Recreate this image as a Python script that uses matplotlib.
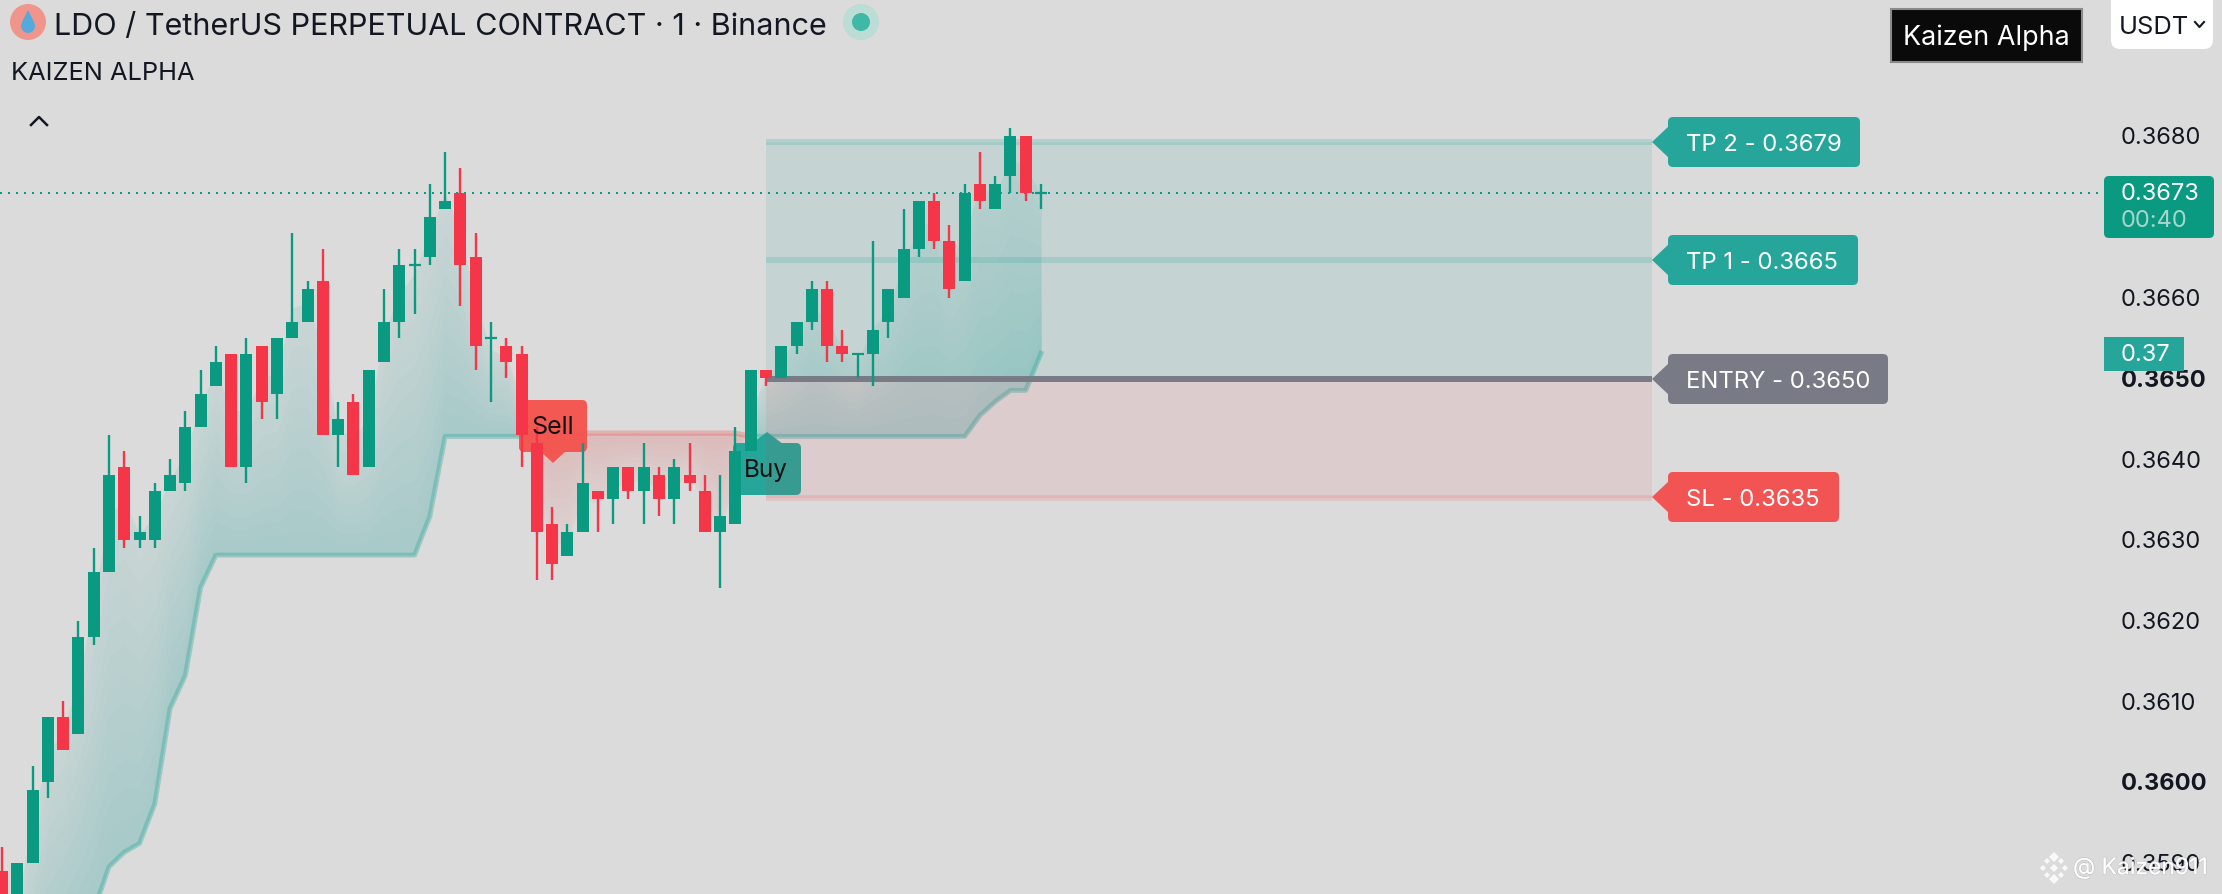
import numpy as np
import matplotlib
matplotlib.use("Agg")
import matplotlib.pyplot as plt
import matplotlib.patheffects as pe
from matplotlib.patches import FancyBboxPatch, Polygon, Circle, Rectangle
from matplotlib.transforms import Affine2D

plt.rcParams['font.family'] = ['Inter', 'DejaVu Sans']

W, H = 2222, 894
BG = "#dbdbdb"
GREEN = "#0a9981"
RED = "#f53648"
TEAL = "#26a69a"
GREY = "#787b86"
SALMON = "#f25454"

# candles, one row per bar
opens = [.3589, .3580, .3590, .3600, .3608, .3606, .3618, .3626, .3639, .3630, .3630, .3636, .3637, .3644, .3649,
         .3653, .3639, .3654, .3648, .3655, .3657, .3662, .3643, .3647, .3639, .3652, .3657, .3664, .3665, .3671,
         .3673, .3665, .3655, .3654, .3653, .3642, .3632, .3628, .3631, .3636, .3635, .3639, .3636, .3638, .3635,
         .3638, .3636, .3631, .3632, .3641, .3651, .3650, .3654, .3657, .3661, .3654, .3653, .3653, .3657, .3660,
         .3666, .3672, .3667, .3662, .3674, .3671, .3675, .3680, .3673]
highs = [.3592, .3590, .3602, .3608, .3610, .3620, .3629, .3643, .3641, .3633, .3637, .3640, .3646, .3651, .3654,
         .3653, .3655, .3654, .3655, .3668, .3662, .3666, .3647, .3648, .3651, .3661, .3666, .3666, .3674, .3678,
         .3676, .3668, .3657, .3655, .3654, .3644, .3634, .3632, .3642, .3636, .3639, .3639, .3642, .3639, .3640,
         .3642, .3638, .3638, .3644, .3651, .3651, .3654, .3657, .3662, .3662, .3656, .3653, .3667, .3661, .3671,
         .3672, .3673, .3669, .3674, .3678, .3675, .3681, .3680, .3674]
lows = [.3580, .3580, .3590, .3598, .3604, .3606, .3617, .3626, .3629, .3629, .3629, .3636, .3636, .3644, .3649,
        .3639, .3637, .3645, .3645, .3655, .3657, .3643, .3639, .3638, .3639, .3652, .3655, .3658, .3664, .3671,
        .3659, .3651, .3647, .3650, .3639, .3625, .3625, .3628, .3631, .3631, .3632, .3635, .3632, .3633, .3632,
        .3636, .3631, .3624, .3632, .3641, .3649, .3650, .3653, .3656, .3652, .3652, .3650, .3649, .3655, .3660,
        .3665, .3666, .3660, .3662, .3671, .3671, .3673, .3672, .3671]
closes = [.3580, .3590, .3599, .3608, .3604, .3618, .3626, .3638, .3630, .3631, .3636, .3638, .3644, .3648, .3652,
          .3639, .3653, .3647, .3655, .3657, .3661, .3643, .3645, .3638, .3651, .3657, .3664, .3664, .3670, .3672,
          .3664, .3654, .3655, .3652, .3643, .3631, .3627, .3631, .3637, .3635, .3639, .3636, .3639, .3635, .3639,
          .3637, .3631, .3633, .3641, .3651, .3650, .3654, .3657, .3661, .3654, .3653, .3653, .3656, .3661, .3666,
          .3672, .3667, .3661, .3673, .3672, .3674, .3680, .3673, .3673]

# trailing stop of the indicator
trail = [.3565, .3568, .3572, .3575, .3578, .3581, .3584, .35895, .35913, .35924, .35973, .36091, .36132, .36241,
         .36281, .36281, .36281, .36281, .36281, .36281, .36281, .36281, .36281, .36281, .36281, .36281, .36281,
         .36281, .36329, .36428, .36428, .36428, .36428, .36428, .36428, .36432, .36432, .36432, .36432, .36432,
         .36432, .36432, .36432, .36432, .36432, .36432, .36432, .36432, .36432, .36428, .36428, .36428, .36428,
         .36428, .36428, .36428, .36428, .36428, .36428, .36428, .36428, .36428, .36428, .36428, .36454, .36471,
         .36485, .36485, .36531]

# trade zone
zone_start, zone_end = 50, 108
tp2_level, tp1_level, entry_level, sl_level = .36793, .36646, .36499, .36352
last_price = .3673
tick_prices = [.3680, .3660, .3650, .3640, .3630, .3620, .3610, .3600, .3590]
tick_labels = ["0.3680", "0.3660", "0.3650", "0.3640", "0.3630", "0.3620", "0.3610", "0.3600", "0.3590"]
bold_ticks = ["0.3650", "0.3600"]


def gradient_fill(ax, x, base, top, color, steps=12, step_alpha=0.016, top_alpha=0.08):
    # nested layers so the colour gets denser towards the trail line
    # few layers on purpose, very low alphas round badly in agg and go grey
    ax.fill_between(x, base, top, color=color, alpha=top_alpha, lw=0, zorder=1)
    for f in np.linspace(0.1, 1, steps):
        ax.fill_between(x, base, base + f * (top - base), color=color, alpha=step_alpha, lw=0, zorder=1)


fig = plt.figure(figsize=(W / 100, H / 100), dpi=100, facecolor=BG)
ax = fig.add_axes([0, 0, 1, 1], facecolor=BG)
ax.set_xlim((0 - 2) / 15.28, (W - 2) / 15.28)
ax.set_ylim(.3680 - (H - 136) / 80750, .3680 + 136 / 80750)

# top-left pixel coordinates for the screen furniture
P = Affine2D().scale(1 / W, -1 / H).translate(0, 1) + ax.transAxes

idx = np.arange(len(opens))
o, h, l, c = map(np.array, (opens, highs, lows, closes))
line = np.array(trail)
ohlc4 = (o + h + l + c) / 4

# indicator fills and line
seg1 = idx <= 35
seg2 = (idx >= 35) & (idx <= 49)
seg3 = idx >= 49
gradient_fill(ax, idx[seg1], line[seg1], ohlc4[seg1], TEAL)
gradient_fill(ax, idx[seg2], line[seg2], ohlc4[seg2], "#f05050", step_alpha=0.012, top_alpha=0.05)
gradient_fill(ax, idx[seg3], line[seg3], ohlc4[seg3], TEAL)
ax.plot(idx[seg1], line[seg1], color=TEAL, alpha=.34, lw=3.6, zorder=1.1, solid_joinstyle="round")
ax.plot(idx[seg2], line[seg2], color="#f05050", alpha=.3, lw=3.8, zorder=1.1)
ax.plot(idx[seg3], line[seg3], color=TEAL, alpha=.34, lw=3.6, zorder=1.1, solid_joinstyle="round")


def tag(x0, y0, x1, y1, color, zorder, tip=None, alpha=1.0, radius=5):
    ax.add_patch(FancyBboxPatch((x0, y0), x1 - x0, y1 - y0, boxstyle=f"round,pad=0,rounding_size={radius}", fc=color,
                                ec="none", alpha=alpha, transform=P, zorder=zorder))
    if tip is not None:
        ax.add_patch(Polygon(tip, closed=True, fc=color, ec="none", alpha=alpha, transform=P, zorder=zorder))


# sell and buy markers, these sit under the zones and candles
tag(519, 400, 587, 452, "#f4544f", 1.2, tip=[(540, 451), (553, 463), (566, 451)], alpha=.97)
tag(733, 443, 801, 495, TEAL, 1.2, tip=[(751, 444), (767, 432), (783, 444)])

# trade zones
ax.fill_between([zone_start, zone_end], entry_level, tp2_level, color=TEAL, alpha=.12, lw=0, zorder=1.5)
ax.fill_between([zone_start, zone_end], sl_level, entry_level, color="#f23645", alpha=.09, lw=0, zorder=1.5)
ax.hlines([tp2_level, tp1_level], zone_start, zone_end, color=TEAL, alpha=.2, lw=4.3, zorder=1.6)
ax.hlines(sl_level, zone_start, zone_end, color="#f23645", alpha=.15, lw=4.0, zorder=1.6)
ax.hlines(entry_level, zone_start, zone_end, color=GREY, lw=4.3, zorder=1.7)

# last price line
ax.plot([(0 - 2) / 15.28, (2098 - 2) / 15.28], [last_price, last_price], color=GREEN, lw=1.44,
        dashes=(1, 3), dash_capstyle="butt", zorder=1.8)

# candles
up = c >= o
colors = np.where(up, GREEN, RED)
ax.vlines(idx, l, h, colors=colors, lw=1.7, zorder=3)
ax.bar(idx, np.abs(c - o), bottom=np.minimum(o, c), width=12 / 15.28, color=colors, lw=0, zorder=3)
doji = o == c
ax.hlines(c[doji], idx[doji] - 6 / 15.28, idx[doji] + 6 / 15.28, colors=colors[doji], lw=1.6, zorder=3)

ax.text(553, 428, "Sell", transform=P, ha="center", va="center", fontsize=18, color="#111111", zorder=4)
ax.text(766, 471, "Buy", transform=P, ha="center", va="center", fontsize=17.5, color="#111111", zorder=4)

# trade labels on the right
for y, x1, col, s in [(142, 1860, TEAL, "TP 2 - 0.3679"), (260, 1858, TEAL, "TP 1 - 0.3665"),
                      (379, 1888, GREY, "ENTRY - 0.3650"), (497, 1839, SALMON, "SL - 0.3635")]:
    tag(1668, y - 25, x1, y + 25, col, 5, tip=[(1669, y - 16), (1652, y), (1669, y + 16)])
    ax.text(1686, y + 3, s, transform=P, ha="left", va="center", fontsize=17.2, color="white", zorder=6)

# price axis
ax.yaxis.tick_right()
ax.set_yticks(tick_prices)
ax.set_yticklabels(tick_labels)
ax.set_xticks([])
ax.tick_params(axis="y", length=0, pad=-72.7, labelsize=17, labelcolor="#131722")
for t in ax.get_yticklabels():
    if t.get_text() in bold_ticks:
        t.set_fontweight("bold")
for s in ax.spines.values():
    s.set_visible(False)

tag(2104, 176, 2214, 238, GREEN, 5)
ax.text(2121, 194, "0.3673", transform=P, ha="left", va="center", fontsize=17, color="white", zorder=6)
ax.text(2121, 221, "00:40", transform=P, ha="left", va="center", fontsize=17, color="#a6d6cc", zorder=6)
ax.add_patch(Rectangle((2104, 337), 80, 34, fc=TEAL, ec="none", transform=P, zorder=5))
ax.text(2121, 355, "0.37", transform=P, ha="left", va="center", fontsize=17, color="white", zorder=6)

# header
ax.add_patch(Circle((28, 22), 18, fc="#f0958c", ec="none", transform=P, zorder=5))
ax.add_patch(Circle((28, 26), 7, fc="#55aadd", ec="none", transform=P, zorder=6))
ax.add_patch(Polygon([(22, 22), (28, 10), (34, 22)], fc="#55aadd", ec="none", transform=P, zorder=6))
ax.text(54, 27, "LDO / TetherUS PERPETUAL CONTRACT · 1 · Binance", transform=P, ha="left", va="center",
        fontsize=22, color="#131722", zorder=6)
ax.add_patch(Circle((861, 22), 18, fc="#bcdcd6", ec="none", transform=P, zorder=5))
ax.add_patch(Circle((861, 22), 9, fc="#3fb8a5", ec="none", transform=P, zorder=6))
ax.text(11, 74, "KAIZEN ALPHA", transform=P, ha="left", va="center", fontsize=18.3, color="#131722", zorder=6)
ax.plot([31, 39, 47], [125, 117, 125], color="#131722", lw=1.8, transform=P, zorder=6)

ax.add_patch(Rectangle((1891, 9), 191, 53, fc="#0a0a0a", ec="#8a8a8a", lw=1.5, transform=P, zorder=5))
ax.text(1986, 38, "Kaizen Alpha", transform=P, ha="center", va="center", fontsize=19.4, color="white", zorder=6)
tag(2111, -10, 2213, 49, "white", 5, radius=9)
ax.text(2119, 27, "USDT", transform=P, ha="left", va="center", fontsize=18.3, color="#131722", zorder=6)
ax.plot([2195, 2199.5, 2204], [22, 27, 22], color="#131722", lw=1.5, transform=P, zorder=6)

# watermark
wm = ax.text(2073, 868, "@ Kaizen911", transform=P, ha="left", va="center", fontsize=16.5, color="white", alpha=.85,
             zorder=7)
wm.set_path_effects([pe.withStroke(linewidth=1, foreground="#999999", alpha=.4), pe.Normal()])
for dx, dy, r in [(0, 0, 4), (-11, 0, 3), (11, 0, 3), (0, -11, 5), (0, 11, 5), (-7, 7, 3), (7, 7, 3), (-7, -7, 3),
                  (7, -7, 3)]:
    cx, cy = 2054 + dx, 868 + dy
    ax.add_patch(Polygon([(cx - r, cy), (cx, cy - r), (cx + r, cy), (cx, cy + r)], fc="white", ec="none", alpha=.85,
                         transform=P, zorder=7))

fig.savefig("out.png", dpi=100, facecolor=BG)
